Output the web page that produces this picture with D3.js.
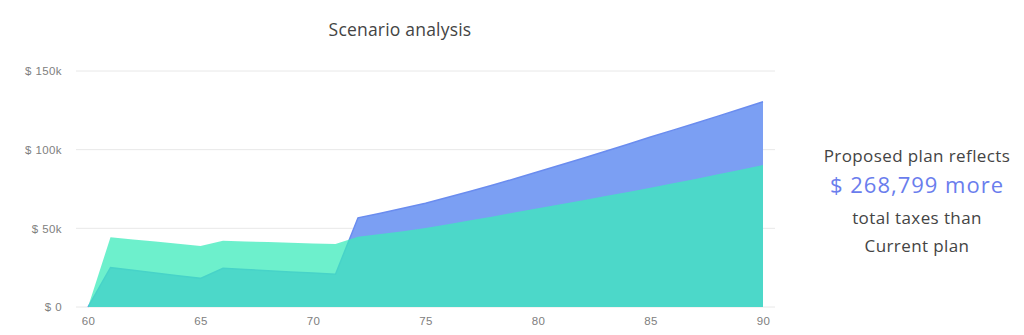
<!DOCTYPE html>
<html>
<head>
<meta charset="utf-8">
<script src="https://cdnjs.cloudflare.com/ajax/libs/d3/7.8.5/d3.min.js"></script>
<style>
    body { margin: 0; background: #fff; font-family: "Open Sans", Lato, sans-serif; }
    .grid line { stroke: #e8e8e8; }
    .tick text { fill: #808080; font-size: 11.5px; letter-spacing: 0.4px; }
</style>
</head>
<body>
<svg id="chart" width="1024" height="335"></svg>
<script>
// Ages on the x axis
var ages = [60, 61, 62, 63, 64, 65, 66, 67, 68, 69, 70, 71, 72, 73, 74, 75, 76, 77, 78, 79, 80, 81, 82, 83, 84, 85, 86, 87, 88, 89, 90];

// Taxes per year (USD), current plan (green) and proposed plan (blue)
var currentPlan = [0, 44300, 42900, 41600, 40200, 38800, 42100, 41700, 41300, 40800, 40400, 40000, 44700, 46400, 48200, 50200, 52600, 55100, 57600, 60200, 62800, 65300, 67900, 70500, 73100, 75800, 78600, 81400, 84300, 87200, 90200];
var proposedPlan = [0, 25000, 23300, 21600, 19900, 18200, 24600, 23800, 23100, 22300, 21600, 20800, 56700, 59600, 62700, 65900, 69700, 73600, 77500, 81700, 86000, 90300, 94600, 99000, 103500, 108000, 112400, 116800, 121300, 125800, 130400];

var yTicks = [0, 50000, 100000, 150000];
var xTicks = [60, 65, 70, 75, 80, 85, 90];

var summaryLines = ["Proposed plan reflects", "$ 268,799 more", "total taxes than", "Current plan"];

var svg = d3.select("#chart");

var x = d3.scaleLinear().domain([60, 90]).range([88, 763]);
var y = d3.scaleLinear().domain([0, 150000]).range([307, 71]);

//Gridlines
svg.append("g")
    .attr("class", "grid")
    .selectAll("line")
    .data(yTicks)
    .enter().append("line")
    .attr("x1", 76)
    .attr("x2", 775)
    .attr("y1", function (d) { return y(d); })
    .attr("y2", function (d) { return y(d); });

//Y axis labels
svg.append("g")
    .attr("transform", "translate(66,0)")
    .call(d3.axisLeft(y).tickValues(yTicks).tickSize(0).tickPadding(4)
        .tickFormat(function (d) { return d == 0 ? "$ 0" : "$ " + (d / 1000) + "k"; }))
    .call(function (g) { g.select(".domain").remove(); });

//X axis labels
svg.append("g")
    .attr("transform", "translate(0,309)")
    .call(d3.axisBottom(x).tickValues(xTicks).tickSize(0).tickPadding(8).tickFormat(d3.format("d")))
    .call(function (g) { g.select(".domain").remove(); });

var rows = ages.map(function (a, i) { return { age: a, current: currentPlan[i], proposed: proposedPlan[i] }; });

var blueArea = d3.area()
    .x(function (d) { return x(d.age); })
    .y0(y(0))
    .y1(function (d) { return y(d.proposed); });

var blueLine = d3.line()
    .x(function (d) { return x(d.age); })
    .y(function (d) { return y(d.proposed); });

var greenArea = d3.area()
    .x(function (d) { return x(d.age); })
    .y0(y(0))
    .y1(function (d) { return y(d.current); });

svg.append("path")
    .datum(rows)
    .attr("fill", "#7b9ff3")
    .attr("d", blueArea);

svg.append("path")
    .datum(rows)
    .attr("fill", "none")
    .attr("stroke", "#6a8cef")
    .attr("stroke-width", 1.5)
    .attr("d", blueLine);

svg.append("path")
    .datum(rows)
    .attr("fill", "#3cebbb")
    .attr("fill-opacity", 0.75)
    .attr("d", greenArea);

//Title
svg.append("text")
    .attr("x", 400)
    .attr("y", 36)
    .attr("text-anchor", "middle")
    .attr("fill", "#444")
    .style("font-size", "17.5px")
    .style("letter-spacing", "0.2px")
    .text("Scenario analysis");

//Summary on the right
var lineY = [162, 193, 224, 252];
svg.append("g")
    .selectAll("text")
    .data(summaryLines)
    .enter().append("text")
    .attr("x", 917)
    .attr("y", function (d, i) { return lineY[i]; })
    .attr("text-anchor", "middle")
    .attr("fill", function (d, i) { return i == 1 ? "#6a7ded" : "#444"; })
    .style("font-size", function (d, i) { return i == 1 ? "22px" : "17px"; })
    .style("letter-spacing", function (d, i) { return i == 1 ? "1px" : "0.4px"; })
    .text(function (d) { return d; });
</script>
</body>
</html>
